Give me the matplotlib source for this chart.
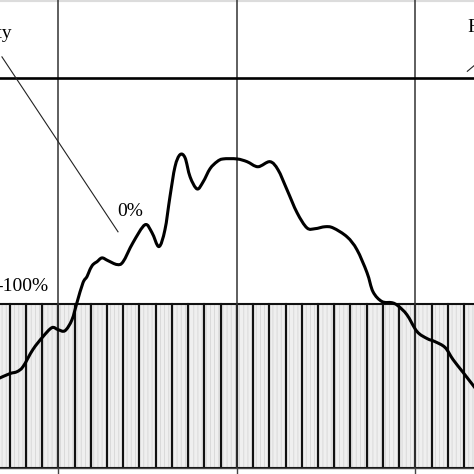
import matplotlib
matplotlib.use("Agg")
import matplotlib.pyplot as plt
from matplotlib.path import Path
from matplotlib.patches import PathPatch

# curve (x in bar units, y in chart units)
curve_x = [-3.7, -2.98, -2.54, -2.17, -1.56, -0.94, -0.39, -0.02, 0.41, 0.84,
           1.15, 1.52, 1.77, 1.95, 2.14, 2.38, 2.69, 3.06, 3.62, 3.99,
           4.60, 5.34, 5.77, 6.20, 6.57, 6.88, 7.19, 7.50, 7.81, 8.12,
           8.55, 8.92, 9.35, 9.78, 10.15, 11.01, 11.63, 12.30, 13.04, 13.54,
           14.09, 14.71, 15.32, 15.82, 16.43, 16.93, 17.79, 18.40, 19.02, 19.39,
           19.94, 20.56, 20.93, 21.48, 22.10, 22.72, 23.21, 23.83, 24.32, 24.94,
           25.7]
curve_y = [22.8, 24.1, 24.6, 25.9, 30.3, 33.6, 35.9, 35.4, 35.1, 37.9,
           42.3, 47.4, 49.0, 50.8, 52.1, 52.8, 53.8, 53.1, 52.1, 52.8,
           57.7, 62.3, 60.3, 56.7, 61.0, 69.5, 77.2, 80.3, 79.5, 74.6,
           71.5, 73.3, 76.7, 78.5, 79.2, 79.2, 78.5, 77.2, 78.5, 76.4,
           71.3, 65.4, 61.5, 61.3, 61.8, 61.5, 59.2, 55.9, 50.0, 45.1,
           42.6, 42.3, 41.5, 39.2, 34.9, 33.1, 32.3, 30.8, 27.7, 24.4,
           20.3]

# bars
bar_left = list(range(-4, 26))
bar_height = [42] * len(bar_left)

grid_x = [0, 11, 22]
ref_level = 100

plt.rcParams['font.family'] = ['Liberation Serif', 'DejaVu Serif']
plt.rcParams['hatch.linewidth'] = 0.6

fig = plt.figure(figsize=(4.74, 4.74), dpi=100)
ax = fig.add_axes([0, 6.5 / 474, 1, 467.5 / 474])

ax.bar(bar_left, bar_height, width=1, align='edge', color='#efefef',
       edgecolor='#d6d6d6', linewidth=0, hatch='||||', zorder=1)
ax.bar(bar_left, bar_height, width=1, align='edge', fill=False,
       edgecolor='#111111', linewidth=1.5, zorder=2)

for gx in grid_x:
    ax.axvline(gx, color='#333333', lw=1.1, zorder=3)
ax.axhline(ref_level, color='black', lw=1.9, zorder=3)

# smooth line through the read points (Catmull-Rom drawn as bezier segments)
verts = [(curve_x[0], curve_y[0])]
codes = [Path.MOVETO]
n = len(curve_x)
for i in range(n - 1):
    p0 = (curve_x[max(i - 1, 0)], curve_y[max(i - 1, 0)])
    p1 = (curve_x[i], curve_y[i])
    p2 = (curve_x[i + 1], curve_y[i + 1])
    p3 = (curve_x[min(i + 2, n - 1)], curve_y[min(i + 2, n - 1)])
    c1 = (p1[0] + (p2[0] - p0[0]) / 6, p1[1] + (p2[1] - p0[1]) / 6)
    c2 = (p2[0] - (p3[0] - p1[0]) / 6, p2[1] - (p3[1] - p1[1]) / 6)
    verts += [c1, c2, p2]
    codes += [Path.CURVE4] * 3
ax.add_patch(PathPatch(Path(verts, codes), fill=False, edgecolor='black',
                       lw=2.2, joinstyle='round', capstyle='round', zorder=5))

# annotations
ax.plot([-3.47, 3.68], [105.4, 60.5], color='#222222', lw=0.8, zorder=4)
ax.plot([25.2, 26.0], [101.7, 104.5], color='#222222', lw=0.8, zorder=4)
ax.text(4.42, 65.6, "0%", fontsize=14, ha='center', va='center', zorder=6)
ax.text(-3.8, 46.4, "-100%", fontsize=14, ha='left', va='center', zorder=6)
ax.text(-2.85, 111.5, "Intensity", fontsize=14, ha='right', va='center', zorder=6)
ax.text(25.18, 113.0, "Frequency", fontsize=14, ha='left', va='center', zorder=6)

ax.set_xlim(-3.59, 25.61)
ax.set_ylim(0, 120)
for side in ['left', 'right']:
    ax.spines[side].set_visible(False)
ax.spines['top'].set_color('#dcdcdc')
ax.spines['top'].set_linewidth(3)
ax.spines['bottom'].set_color('#444444')
ax.spines['bottom'].set_linewidth(1.0)
ax.set_xticks(grid_x)
ax.set_xticklabels([])
ax.set_yticks([])
ax.tick_params(axis='x', direction='out', length=5, width=1, color='#444444')

fig.savefig("out.png", dpi=100)
